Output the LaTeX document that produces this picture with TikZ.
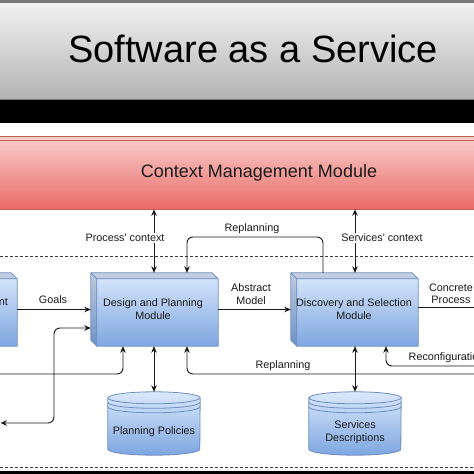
\documentclass[tikz,border=0pt]{standalone}
\usepackage{fontspec}
\setmainfont{Liberation Sans}
\usetikzlibrary{arrows.meta,calc}
\definecolor{bluetop}{HTML}{DAE8FC}
\definecolor{bluebot}{HTML}{7EA6E0}
\definecolor{bluestroke}{HTML}{6C8EBF}
\definecolor{redtop}{HTML}{F8CECC}
\definecolor{redbot}{HTML}{EA6B66}
\definecolor{redstroke}{HTML}{C0605C}
\definecolor{greytop}{HTML}{F2F2F2}
\definecolor{greybot}{HTML}{B3B3B3}
\definecolor{greystroke}{HTML}{7A7A7A}
\definecolor{ink}{HTML}{1A1A1A}
\newcommand{\cubeshape}[1]{%
  \shade[top color=bluetop,bottom color=bluebot] (#1.north west) -- ([xshift=-6pt]#1.north east) -- ([yshift=-6pt]#1.north east) -- (#1.south east) -- ([xshift=6pt]#1.south west) -- ([yshift=6pt]#1.south west) -- cycle;
  \fill[black,opacity=0.10] (#1.north west) -- ([xshift=-6pt]#1.north east) -- ([yshift=-6pt]#1.north east) -- ([xshift=6pt,yshift=-6pt]#1.north west) -- cycle;
  \fill[black,opacity=0.12] (#1.north west) -- ([xshift=6pt,yshift=-6pt]#1.north west) -- ([xshift=6pt]#1.south west) -- ([yshift=6pt]#1.south west) -- cycle;
  \draw[bluestroke,line width=0.8pt,line join=round] (#1.north west) -- ([xshift=-6pt]#1.north east) -- ([yshift=-6pt]#1.north east) -- (#1.south east) -- ([xshift=6pt]#1.south west) -- ([yshift=6pt]#1.south west) -- cycle;
  \draw[bluestroke,line width=0.8pt] (#1.north west) -- ([xshift=6pt,yshift=-6pt]#1.north west) -- ([yshift=-6pt]#1.north east) ([xshift=6pt,yshift=-6pt]#1.north west) -- ([xshift=6pt]#1.south west);
}
\newcommand{\dbshape}[1]{%
  \shade[top color=bluetop,bottom color=bluebot] ([yshift=-6pt]#1.north west) -- ([yshift=6pt]#1.south west) arc[start angle=180,end angle=360,x radius=46pt,y radius=6pt] -- ([yshift=-6pt]#1.north east) arc[start angle=0,end angle=180,x radius=46pt,y radius=6pt] -- cycle;
  \draw[bluestroke,line width=0.8pt] ([yshift=-6pt]#1.north west) -- ([yshift=6pt]#1.south west) arc[start angle=180,end angle=360,x radius=46pt,y radius=6pt] -- ([yshift=-6pt]#1.north east) arc[start angle=0,end angle=180,x radius=46pt,y radius=6pt] -- cycle;
  \draw[bluestroke,line width=0.8pt] ([yshift=-6pt]#1.north west) arc[start angle=180,end angle=360,x radius=46pt,y radius=6pt];
  \draw[bluestroke,line width=0.8pt] ([yshift=-10.5pt]#1.north west) arc[start angle=180,end angle=360,x radius=46pt,y radius=6pt];
  \draw[bluestroke,line width=0.8pt] ([yshift=-15pt]#1.north west) arc[start angle=180,end angle=360,x radius=46pt,y radius=6pt];
}
\begin{document}
\begin{tikzpicture}[x=1pt,y=-1pt,
  lbl/.style={font=\fontsize{10.8}{12.5}\selectfont,text=ink,align=center,inner sep=1pt},
  boxn/.style={minimum width=127pt,minimum height=73pt,inner sep=0pt},
  dbn/.style={minimum width=92pt,minimum height=63pt,inner sep=0pt},
  conn/.style={draw=ink,line width=0.9pt},
  tip/.style={-{Stealth[length=6.5pt,width=5.5pt]}},
  tips/.style={{Stealth[length=6.5pt,width=5.5pt]}-{Stealth[length=6.5pt,width=5.5pt]}},
  dash line/.style={draw=ink!85,line width=0.8pt,dash pattern=on 3pt off 2pt}]
\clip (0,0) rectangle (474,474);
\fill[white] (0,0) rectangle (474,474);
% top title band
\fill[greystroke] (-5,0) rectangle (479,2.5);
\node[minimum width=484pt,minimum height=96.5pt,inner sep=0pt,top color=greytop,bottom color=greybot,draw=greystroke,line width=0.6pt] (ttl) at (237,50.75) {};
\node[font=\fontsize{38}{40}\selectfont,text=black,anchor=base,inner sep=0pt] (ttltext) at (253,62) {Software as a Service};
\fill[black] (-5,99.5) rectangle (479,123.3);
% context module
\node[minimum width=484pt,minimum height=72.5pt,inner sep=0pt,top color=redtop,bottom color=redbot,draw=redstroke,line width=0.7pt] (ctx) at (237,172.75) {};
\draw[redstroke,line width=0.7pt] (-5,140.7) -- (479,140.7);
\node[font=\fontsize{18}{20}\selectfont,text=ink,anchor=base,inner sep=0pt] (ctxtext) at (259,177) {Context Management Module};
% dashed separators
\draw[dash line] (0,256) -- (474,256);
\draw[dash line] (0,467) -- (474,467);
\fill[black] (-5,471) rectangle (479,479);
% modules
\node[boxn] (lm) at (-46.5,309.5) {};
\node[boxn] (dpm) at (154.5,309.5) {};
\node[boxn] (disc) at (354.5,309.5) {};
\cubeshape{lm}
\cubeshape{dpm}
\cubeshape{disc}
\node[lbl,anchor=east] (lmtext) at (9,302) {nt};
\node[lbl] (dpmtext) at (153,309) {Design and Planning\\Module};
\node[lbl] (disctext) at (354,309) {Discovery and Selection\\Module};
% databases
\node[dbn] (pp) at (154,423.5) {};
\node[dbn] (sd) at (355,423.5) {};
\dbshape{pp}
\dbshape{sd}
\node[lbl] (pptext) at (154,432) {Planning Policies};
\node[lbl] (sdtext) at (355,432) {Services\\Descriptions};
% free ends
\coordinate (rend) at (480,307);
\coordinate (lend) at (0.5,423);
\coordinate (lin) at (-5,374);
\coordinate (rin1) at (480,374);
\coordinate (rin2) at (480,366);
% connectors
\draw[conn,tips] (154,0 |- ctx.south) -- (154,0 |- dpm.north);
\node[lbl,fill=white] (pctx) at (125,238) {Process\textquotesingle{} context};
\draw[conn,tips] (355,0 |- ctx.south) -- (355,0 |- disc.north);
\node[lbl,fill=white] (sctx) at (382,238) {Services\textquotesingle{} context};
\draw[conn,tip,rounded corners=6pt] (323,0 |- disc.north) -- (323,237) -- (187,237) -- (187,0 |- dpm.north);
\node[lbl] (rp1) at (252,229) {Replanning};
\draw[conn,tip] (lm.east) -- (dpm.west);
\node[lbl] (goals) at (53,300) {Goals};
\draw[conn,tip] (dpm.east) -- (disc.west);
\node[lbl] (abs) at (251,294) {Abstract\\Model};
\draw[conn] (disc.east |- rend) -- (rend);
\node[lbl] (conc) at (451,294) {Concrete\\Process};
\draw[conn,tips,rounded corners=6pt] (lend) -- (54,423) -- (54,328) -- (dpm.west |- 0,328);
\draw[conn,tip,rounded corners=6pt] (lin) -- (123,374) -- (123,0 |- dpm.south);
\draw[conn,tips] (154,0 |- dpm.south) -- (pp.north);
\draw[conn,tip,rounded corners=6pt] (rin1) -- (187,374) -- (187,0 |- dpm.south);
\node[lbl] (rp2) at (283,366) {Replanning};
\draw[conn,tips] (355,0 |- disc.south) -- (sd.north);
\draw[conn,tip,rounded corners=6pt] (rin2) -- (386,366) -- (386,0 |- disc.south);
\node[lbl,anchor=west] (reconf) at (407.5,358) {Reconfiguration};
\end{tikzpicture}
\end{document}
